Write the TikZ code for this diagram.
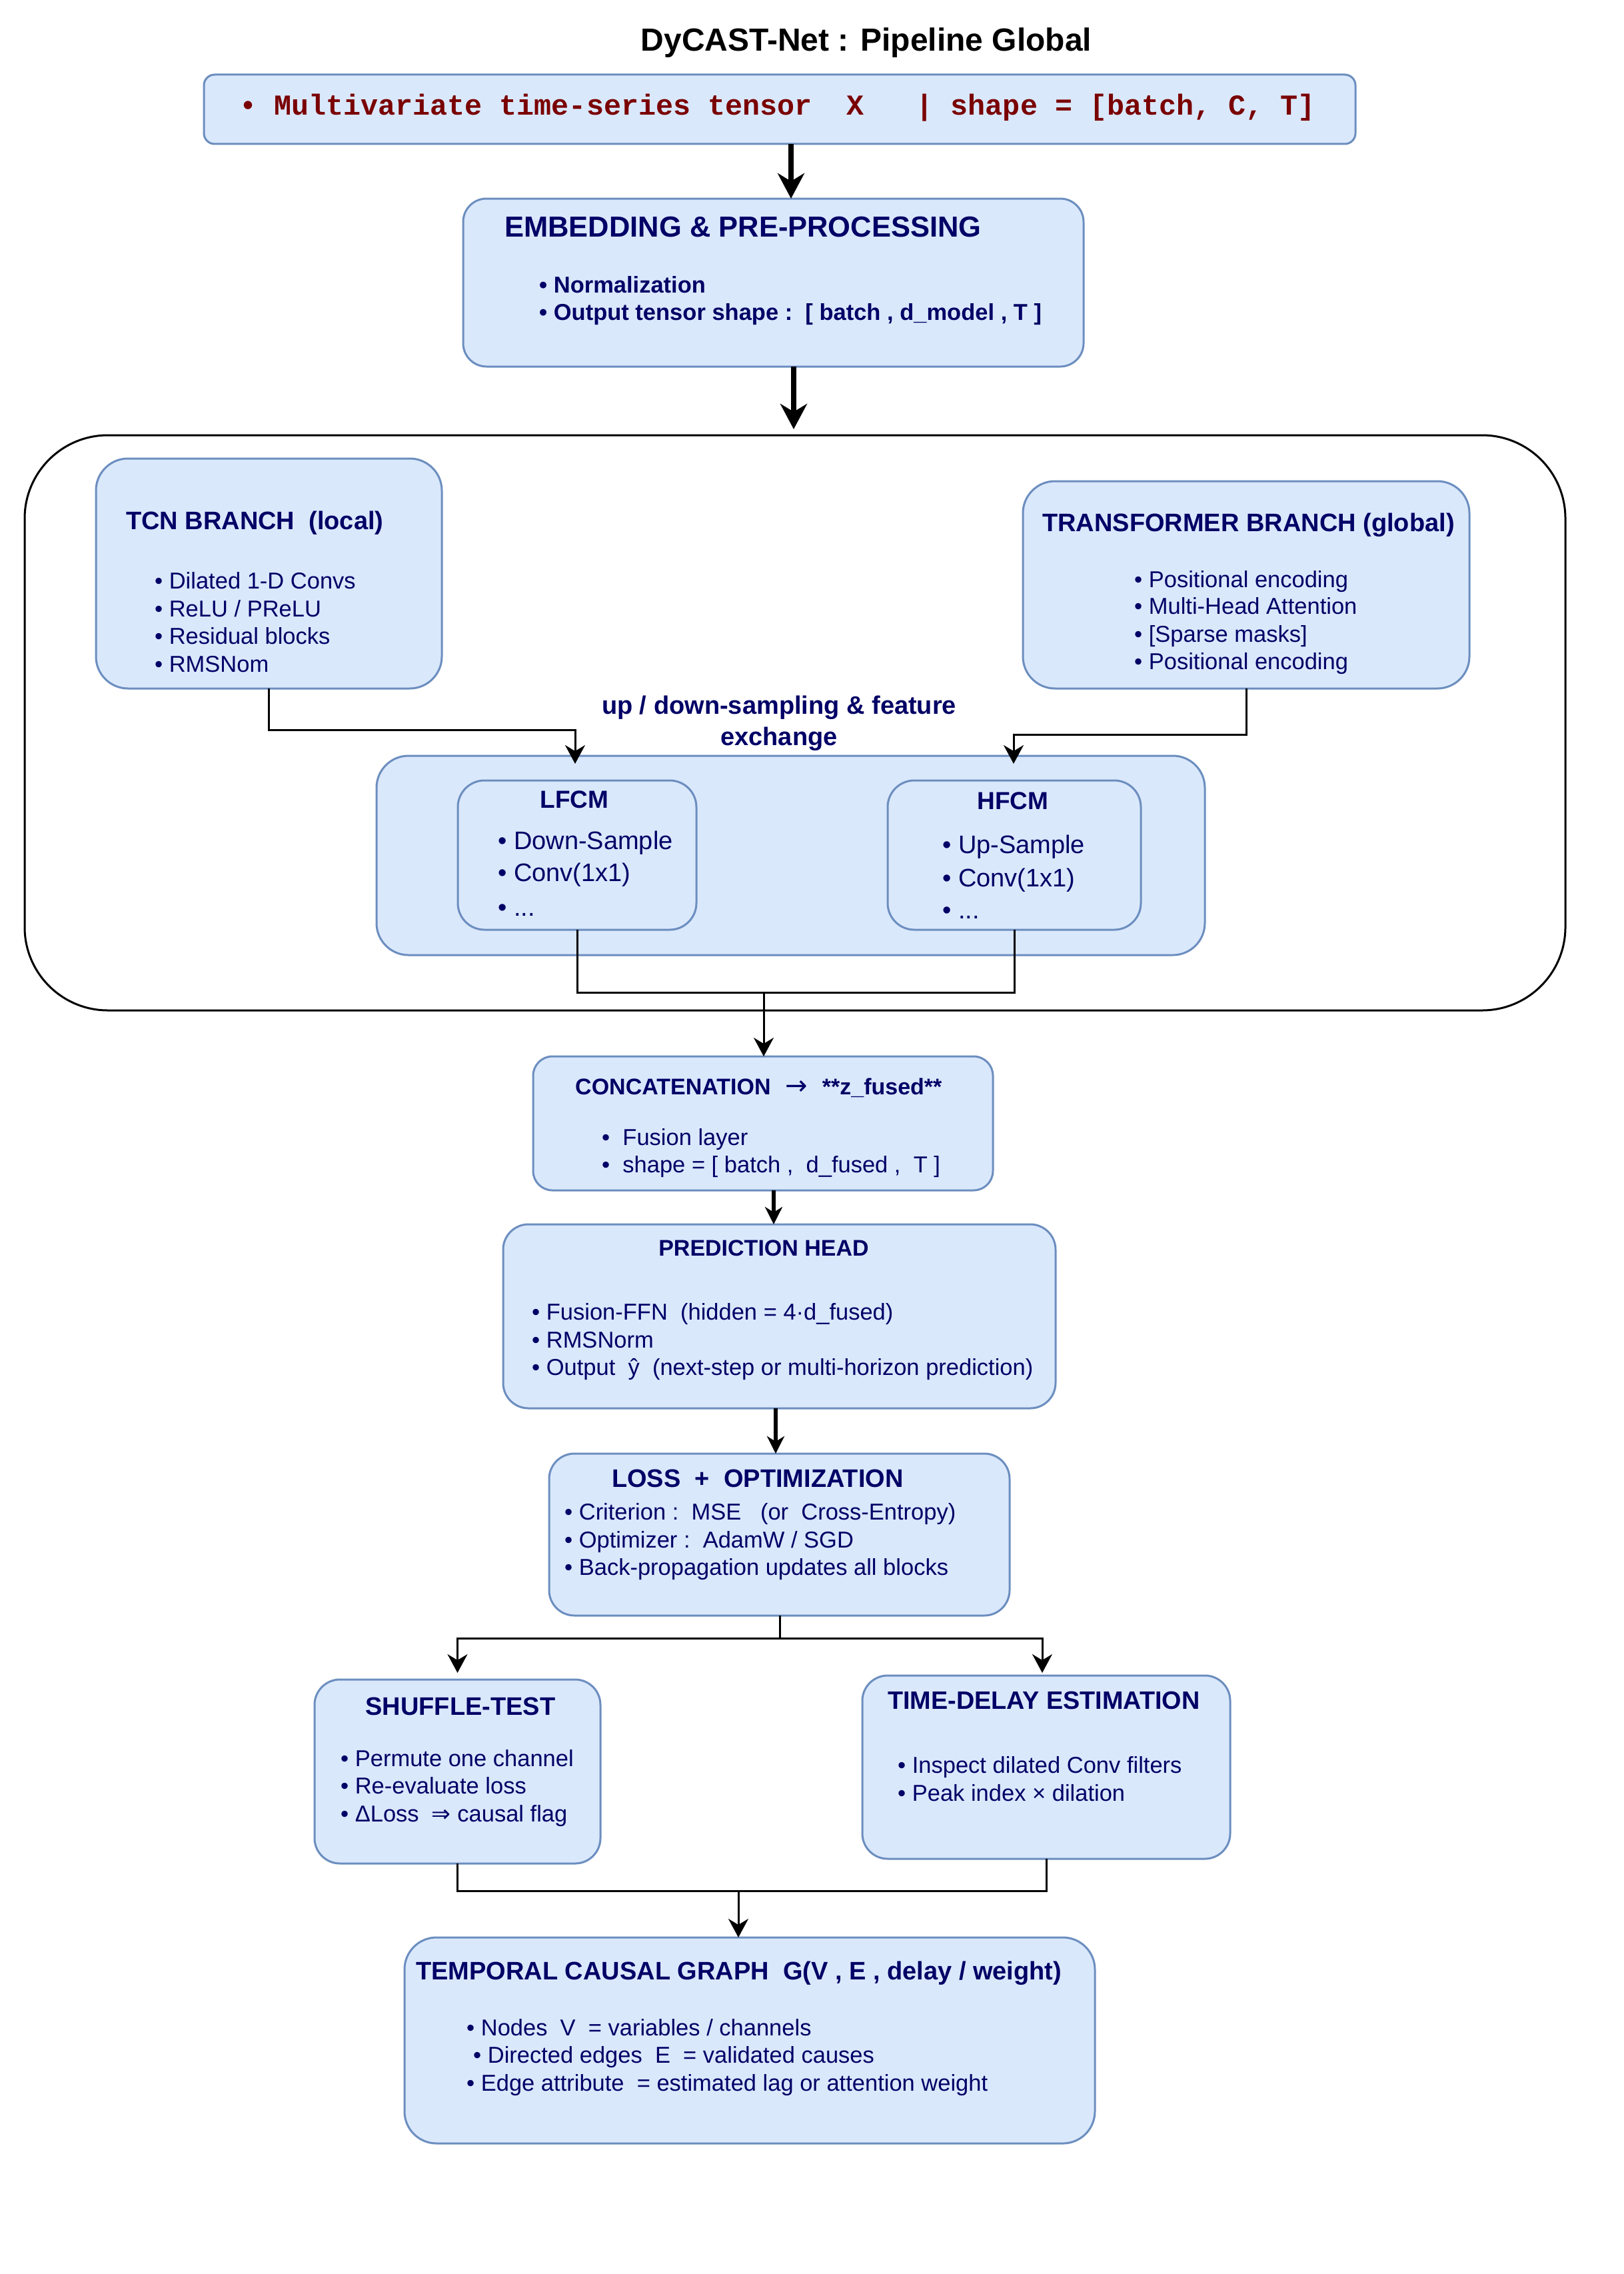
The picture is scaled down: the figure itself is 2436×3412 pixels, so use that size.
\documentclass[tikz,border=0pt]{standalone}
\usepackage{fontspec}
\setmainfont{Liberation Sans}
\newfontfamily\cour{Liberation Mono}
\newfontfamily\dejavu{DejaVu Sans}
\usetikzlibrary{arrows.meta,calc}
\definecolor{boxfill}{HTML}{DAE8FC}
\definecolor{boxline}{HTML}{6C8EBF}
\definecolor{navy}{HTML}{000066}
\definecolor{darkred}{HTML}{7A0000}
\newcommand{\fs}[1]{\fontsize{#1pt}{#1pt}\selectfont}
\tikzset{
 blk/.style={draw=boxline, fill=boxfill, line width=3pt, inner sep=0pt, outer sep=0pt},
 ttl/.style={anchor=base west, inner sep=0pt, text=navy, font=\fs{38}\bfseries},
 ttlc/.style={anchor=base, inner sep=0pt, text=navy, font=\fs{38}\bfseries},
 itm/.style={anchor=base west, inner sep=0pt, text=navy, font=\fs{34.5}},
 wire/.style={line width=3pt},
 conn/.style={line width=3pt, -{Stealth[length=28pt,width=30pt,inset=9pt]}},
 bigarrow/.style={line width=7.5pt, -{Stealth[length=38pt,width=40pt,inset=12pt]}},
 midarrow/.style={line width=6.5pt, -{Stealth[length=26pt,width=26pt,inset=8pt]}},
}
\begin{document}
\begin{tikzpicture}[x=1pt,y=-1pt]
\useasboundingbox (0,0) rectangle (2436,3412);
\fill[white] (0,0) rectangle (2436,3412);

% title
\node[anchor=base, inner sep=0pt, font=\fs{48}\bfseries] (title) at (1300,77) {DyCAST-Net : Pipeline Global};

% input
\node[blk, rounded corners=16pt, minimum width=1728pt, minimum height=104pt] (in) at (1170,164) {};
\node[anchor=base west, inner sep=0pt, text=darkred, font=\cour\fs{43.4}\bfseries] (tin) at (359,173) {• Multivariate time-series tensor~~X~~~| shape = [batch, C, T]};

% embedding
\node[blk, rounded corners=35pt, minimum width=931pt, minimum height=252pt] (emb) at (1160.5,424) {};
\node[ttl, font=\fs{43.5}\bfseries] (embt) at (757,355) {EMBEDDING \& PRE-PROCESSING};
\node[itm, font=\fs{34.5}\bfseries] (emb1) at (809,439) {• Normalization};
\node[itm, font=\fs{34.5}\bfseries] (emb2) at (809,480) {• Output tensor shape :~~[ batch , d\_model , T ]};

% container
\node[draw=black, line width=3pt, rounded corners=125pt, minimum width=2312pt, minimum height=863pt, inner sep=0pt] (cont) at (1193,1084.5) {};

% TCN
\node[blk, rounded corners=48pt, minimum width=519pt, minimum height=345pt] (tcn) at (403.5,860.5) {};
\node[ttl] (tcnt) at (189,794) {TCN BRANCH~~(local)};
\node[itm] (tcn1) at (232,883) {• Dilated 1-D Convs};
\node[itm] (tcn2) at (232,925) {• ReLU / PReLU};
\node[itm] (tcn3) at (232,966) {• Residual blocks};
\node[itm] (tcn4) at (232,1008) {• RMSNom};

% Transformer
\node[blk, rounded corners=48pt, minimum width=670pt, minimum height=311pt] (trans) at (1870,877.5) {};
\node[ttl] (trt) at (1564,797) {TRANSFORMER BRANCH (global)};
\node[itm] (tr1) at (1702,881) {• Positional encoding};
\node[itm] (tr2) at (1702,921) {• Multi-Head Attention};
\node[itm] (tr3) at (1702,963) {• [Sparse masks]};
\node[itm] (tr4) at (1702,1004) {• Positional encoding};

% exchange label
\node[ttlc] (lab1) at (1169,1071) {up / down-sampling \& feature};
\node[ttlc] (lab2) at (1169,1118) {exchange};

% LF/HF container
\node[blk, rounded corners=48pt, minimum width=1243pt, minimum height=299pt] (lfc) at (1186.5,1283.5) {};
\node[blk, rounded corners=40pt, minimum width=358pt, minimum height=224pt] (lfcm) at (866,1283) {};
\node[ttlc, font=\fs{37}\bfseries] (lft) at (862,1212) {LFCM};
\node[itm, font=\fs{38}] (lf1) at (747,1274) {• Down-Sample};
\node[itm, font=\fs{38}] (lf2) at (747,1322) {• Conv(1x1)};
\node[itm, font=\fs{38}] (lf3) at (747,1374) {• ...};
\node[blk, rounded corners=40pt, minimum width=380pt, minimum height=224pt] (hfcm) at (1522,1283) {};
\node[ttlc, font=\fs{37}\bfseries] (hft) at (1520,1214) {HFCM};
\node[itm, font=\fs{38}] (hf1) at (1414,1280) {• Up-Sample};
\node[itm, font=\fs{38}] (hf2) at (1414,1330) {• Conv(1x1)};
\node[itm, font=\fs{38}] (hf3) at (1414,1378) {• ...};

% concatenation
\node[blk, rounded corners=29pt, minimum width=690pt, minimum height=201pt] (concat) at (1145,1685.5) {};
\node[ttl, font=\fs{34}\bfseries] (cct) at (863,1642) {CONCATENATION~~\hspace{3pt}{\dejavu\mdseries\fs{40}→}\hspace{3pt}~~**z\_fused**};
\node[itm] (cc1) at (903,1718) {•~~Fusion layer};
\node[itm] (cc2) at (903,1759) {•~~shape = [ batch ,~~d\_fused ,~~T ]};

% prediction head
\node[blk, rounded corners=38pt, minimum width=829pt, minimum height=276pt] (pred) at (1169.5,1975) {};
\node[ttlc, font=\fs{34}\bfseries] (prt) at (1146,1884) {PREDICTION HEAD};
\node[itm] (pr1) at (798,1980) {• Fusion-FFN~~(hidden = 4·d\_fused)};
\node[itm] (pr2) at (798,2022) {• RMSNorm};
\node[itm] (pr3) at (798,2063) {• Output~~ŷ~~(next-step or multi-horizon prediction)};

% loss
\node[blk, rounded corners=38pt, minimum width=691pt, minimum height=243pt] (loss) at (1169.5,2302.5) {};
\node[ttl] (lot) at (918,2231) {LOSS~~+~~OPTIMIZATION};
\node[itm] (lo1) at (847,2280) {• Criterion :~~MSE~~~(or~~Cross-Entropy)};
\node[itm] (lo2) at (847,2322) {• Optimizer :~~AdamW / SGD};
\node[itm] (lo3) at (847,2363) {• Back-propagation updates all blocks};

% shuffle
\node[blk, rounded corners=38pt, minimum width=429pt, minimum height=276pt] (shuf) at (686.5,2658) {};
\node[ttlc] (sht) at (691,2573) {SHUFFLE-TEST};
\node[itm] (sh1) at (511,2650) {• Permute one channel};
\node[itm] (sh2) at (511,2691) {• Re-evaluate loss};
\node[itm] (sh3) at (511,2733) {• ΔLoss~~{\dejavu ⇒} causal flag};

% time-delay
\node[blk, rounded corners=38pt, minimum width=552pt, minimum height=275pt] (tde) at (1570,2651.5) {};
\node[ttl, font=\fs{37.8}\bfseries] (tdt) at (1332,2564) {TIME-DELAY ESTIMATION};
\node[itm] (td1) at (1347,2660) {• Inspect dilated Conv filters};
\node[itm] (td2) at (1347,2702) {• Peak index × dilation};

% temporal causal graph
\node[blk, rounded corners=48pt, minimum width=1036pt, minimum height=309pt] (tcg) at (1125,3061.5) {};
\node[ttl] (tgt) at (624,2970) {TEMPORAL CAUSAL GRAPH~~G(V , E , delay / weight)};
\node[itm] (tg1) at (700,3054) {• Nodes~~V~~= variables / channels};
\node[itm] (tg2) at (710,3095) {• Directed edges~~E~~= validated causes};
\node[itm] (tg3) at (700,3137) {• Edge attribute~~= estimated lag or attention weight};

% connectors
\coordinate (x1) at (1187,0);
\draw[bigarrow] (in.south -| x1) -- (emb.north -| x1);
\coordinate (a2) at (1191,644);
\draw[bigarrow] (emb.south -| a2) -- (a2);
\coordinate (b1) at (863,1095);
\coordinate (t1) at (863,1146);
\draw[conn] (tcn.south) |- (b1) -- (t1);
\coordinate (b2) at (1521,1102);
\coordinate (t2) at (1521,1146);
\draw[conn] (trans.south) |- (b2) -- (t2);
\coordinate (j1) at (1146,1489);
\draw[wire] (lfcm.south) |- (j1) -| (hfcm.south);
\draw[conn] (j1) -- (concat.north -| j1);
\coordinate (x3) at (1161,0);
\draw[midarrow] (concat.south -| x3) -- (pred.north -| x3);
\coordinate (x4) at (1164,0);
\draw[midarrow] (pred.south -| x4) -- (loss.north -| x4);
\coordinate (j2) at (1170,2458);
\coordinate (x5) at (1564,0);
\draw[conn, shorten >=10pt] (loss.south -| j2) -- (j2) -| (shuf.north);
\draw[conn, shorten >=4pt] (j2) -| (tde.north -| x5);
\coordinate (j3) at (1108,2837);
\draw[wire] (shuf.south) |- (j3) -| (tde.south);
\draw[conn] (j3) -- (tcg.north -| j3);
\end{tikzpicture}
\end{document}
